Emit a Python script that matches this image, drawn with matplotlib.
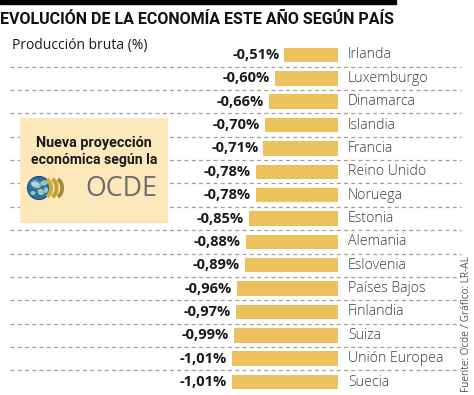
import matplotlib
matplotlib.use("Agg")
import matplotlib.pyplot as plt
from matplotlib.patches import Rectangle, Ellipse, Circle
import numpy as np

countries = ["Irlanda", "Luxemburgo", "Dinamarca", "Islandia", "Francia",
             "Reino Unido", "Noruega", "Estonia", "Alemania", "Eslovenia",
             "Países Bajos", "Finlandia", "Suiza", "Unión Europea", "Suecia"]
values = [-0.51, -0.60, -0.66, -0.70, -0.71, -0.78, -0.78, -0.85, -0.88,
          -0.89, -0.96, -0.97, -0.99, -1.01, -1.01]
labels = ["-0,51%", "-0,60%", "-0,66%", "-0,70%", "-0,71%", "-0,78%", "-0,78%",
          "-0,85%", "-0,88%", "-0,89%", "-0,96%", "-0,97%", "-0,99%", "-1,01%", "-1,01%"]

title = "EVOLUCIÓN DE LA ECONOMÍA ESTE AÑO SEGÚN PAÍS"
subtitle = "Producción bruta (%)"
source = "Fuente: Ocde / Gráfico: LR-AL"
box_lines = ["Nueva proyección", "económica según la"]

base = "Open Sans"
cond = "Roboto"

W, H = 474, 395
fig = plt.figure(figsize=(W / 100, H / 100), dpi=100)
fig.patch.set_facecolor("white")

x0_px = 338.0     # zero line of bars
ppu = 105.0       # pixels per unit
y0_px = 55.0      # first row center
step = 23.36      # row spacing

ax = fig.add_axes([0, 0, 1, 1])
ax.set_xlim(-x0_px / ppu, (W - x0_px) / ppu)
ax.set_ylim((H - y0_px) / step, -y0_px / step)
ax.axis("off")

# overlay axes in pixel coordinates for decorations
dx = fig.add_axes([0, 0, 1, 1])
dx.set_xlim(0, W)
dx.set_ylim(H, 0)
dx.axis("off")
dx.patch.set_alpha(0)

renderer = fig.canvas.get_renderer()

def fit(t, width_px):
    bb = t.get_window_extent(renderer=renderer)
    t.set_fontsize(t.get_fontsize() * width_px / bb.width)

n = len(countries)
ypos = np.arange(n)
ax.barh(ypos, values, height=14.5 / step, color="#EBC25E", zorder=3)

for i in range(n - 1):
    yy = y0_px + step * (i + 0.5)
    dx.plot([10, 461], [yy, yy], color="#a0a0a0", lw=0.9,
            dashes=(3.2, 2.6), zorder=1)

for i, (v, lab, c) in enumerate(zip(values, labels, countries)):
    ax.text(v - 5 / ppu, i, lab, ha="right", va="center", fontsize=10.5,
            fontweight="bold", family=base, color="#1a1a1a", zorder=4)
    ax.text(10 / ppu, i, c, ha="left", va="center", fontsize=10.2,
            fontweight="light", family=base, color="#3c3c3c", zorder=4)

# top black band
dx.add_patch(Rectangle((0, 0), 396, 3.5, color="black", zorder=5, clip_on=False))

tt = dx.text(0, 19, title, ha="left", va="center", fontsize=12.5, fontweight="bold",
             family=cond, color="#111111")
fit(tt, 396)

st = dx.text(12, 45, subtitle, ha="left", va="center", fontsize=10.5,
             family=base, color="#1a1a1a")
fit(st, 136)

dx.text(467, 392, source, rotation=90, ha="center", va="bottom", fontsize=7.2,
        family=base, color="#555555")

# OCDE box
dx.add_patch(Rectangle((20, 118), 148, 105, facecolor="#FDE8BC",
                       edgecolor="none", zorder=6))
for line, yl, wl in zip(box_lines, [143, 160], [116, 126]):
    bt = dx.text(94, yl, line, ha="center", va="center", fontsize=11,
                 fontweight="bold", family=cond, color="#1a1a1a", zorder=7)
    fit(bt, wl)

# globe
gx, gy, gr = 39, 188, 11.5
dx.add_patch(Circle((gx, gy), gr, facecolor="#2F6FA8", edgecolor="#1c4b78",
                    lw=0.8, zorder=7))
for (ox_, oy_, w, h, a) in [(-3, -3, 10, 6, 20), (5, -5, 8, 5, -15),
                             (2, 4, 7, 6, 30), (-6, 5, 5, 4, 0), (7, 2, 4, 6, 0)]:
    dx.add_patch(Ellipse((gx + ox_, gy + oy_), w, h, angle=a, facecolor="#a8cfb8",
                         edgecolor="none", alpha=0.9, zorder=8))
dx.add_patch(Ellipse((gx - 4, gy - 5), 9, 6, facecolor="white",
                     edgecolor="none", alpha=0.3, zorder=9))

# chevrons ")))"
t = np.linspace(-0.95, 0.95, 40)
for xo, col in zip([50, 55.5, 61], ["#D0AE3C", "#BFA03A", "#A48E3A"]):
    r = 11.0
    xs = xo + r * (np.cos(t) - np.cos(0.95)) * 0.9
    ys = gy + r * np.sin(t)
    dx.plot(xs - 3, ys, color=col, lw=2.8, solid_capstyle="butt", zorder=8)

ot = dx.text(121, 189, "OCDE", ha="center", va="center", fontsize=20,
             family=base, color="#6e6e6e", zorder=8)
fit(ot, 72)

fig.savefig("out.png", dpi=100, facecolor="white")
